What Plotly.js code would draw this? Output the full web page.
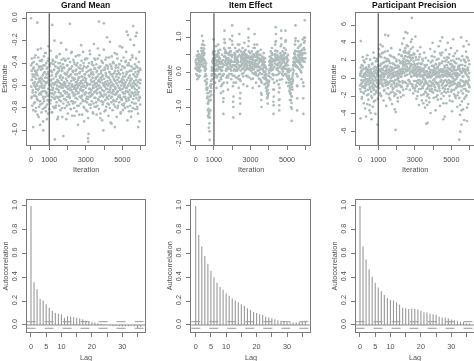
<!DOCTYPE html>
<html><head><meta charset="utf-8">
<script src="https://cdn.plot.ly/plotly-3.0.1.min.js"></script>
<style>html,body{margin:0;padding:0;overflow:hidden;background:#fff}
.main-svg{will-change:transform}</style>
</head><body><div id="chart"></div>
<script>
const panelTitles = ['Grand Mean', 'Item Effect', 'Participant Precision'];
const thinStep = 15;   // iterations between the stored draws of one set
const midOffset = 8;   // the second set sits between the first set's draws
const burnIn = 1000;

const grandMean = [
0,-.61,-.47,-.7,-.55,-.4,-.66,-.52,-.97,-.58,-.44,-.76,-.6,-.35,-.57,-.69,-.5,-.83,-.54,-.63,
-.48,-.59,-.72,-.04,-.51,-.28,-.64,-.57,-.88,-.43,-.68,-.55,-.61,-.95,-.77,-.53,-.46,-.66,-.58,-.38,
-.62,-.54,-.45,-.81,-.7,-1.0,-.56,-.49,-.74,-.6,-.42,-.65,-.53,-.79,-.31,-.58,-.67,-.5,-.9,-.44,
-.57,-.73,-.48,-.63,-.25,-.55,-.69,-.52,-.59,-.41,-.76,-.56,-.64,-.47,-.6,-.84,-.51,-.67,-.06,-.58,
-.38,-.62,-.54,-.71,-.46,-.59,-.8,-1.08,-.66,-.43,-.57,-.78,-.5,-.63,-.34,-.6,-.55,-.7,-.48,-.88,
-.56,-.64,-.45,-.61,-.73,-.52,-.4,-.58,-.67,-.51,-.22,-.62,-.55,-.8,-.47,-.59,-.69,-.53,-1.05,-.44,
-.6,-.57,-.65,-.49,-.72,-.58,-.37,-.61,-.54,-.9,-.5,-.66,-.56,-.42,-.63,-.75,-.52,-.6,-.46,-.68,
-.58,-.7,-.05,-.51,-.62,-.45,-.81,-.56,-.64,-.3,-.59,-.53,-.74,-.48,-.61,-.67,-.55,-.39,-.63,-.87,
-.54,-.6,-.47,-.71,-.57,-.65,-.42,-.59,-.5,-.78,-.62,-.55,-.33,-.66,-.53,-.6,-.86,-.49,-.58,-.7,
-.45,-.63,-.56,-.24,-.61,-.52,-.69,-.58,-.47,-.74,-.55,-.64,-.4,-.6,-.92,-.53,-.67,-.5,-.57,-.36,
-.62,-.54,-.72,-.48,-.6,-.58,-.83,-.43,-1.07,-1.1,-1.03,-.51,-.63,-.7,-.29,-.59,-.46,-.66,-.77,-.55,
-.49,-.64,-.57,-.41,-.68,-.53,-.6,-.85,-.5,-.62,-.56,-.36,-.71,-.59,-.45,-.65,-.54,-.79,-.61,-.48,
-.58,-.67,-.52,-.63,-.27,-.56,-.73,-.5,-.03,-.6,-.44,-.66,-.57,-.89,-.53,-.62,-.47,-.69,-.55,-.39,
-.64,-.51,-.58,-.75,-1.0,-.6,-.045,-.54,-.68,-.46,-.61,-.57,-.82,-.49,-.63,-.35,-.59,-.52,-.7,-.56,
-.43,-.66,-.6,-.53,-.77,-.58,-.48,-.64,-.21,-.55,-.62,-.5,-.71,-.57,-.94,-.45,-.6,-.67,-.52,-.4,
-.59,-.65,-.54,-.74,-.49,-.61,-.97,-.56,-.63,-.44,-.68,-.52,-.58,-.32,-.66,-.55,-.8,-.6,-.47,-.7,
-.53,-.62,-.57,-.41,-.69,-.5,-.64,-.85,-.56,-.6,-.46,-.72,-.54,-.26,-.63,-.58,-.49,-.67,-.55,-.78,
-.61,-.44,-.59,-.52,-.7,-.57,-.38,-.65,-.5,-.12,-.62,-.55,-.91,-.48,-.6,-.66,-.53,-.73,-.42,-.58,
-.64,-.51,-.56,-.19,-.69,-.6,-.47,-.83,-.54,-.62,-.35,-.58,-.67,-.07,-.5,-.61,-.56,-.76,-.45,-.63,
-.52,-.59,-.16,-.68,-.55,-.43,-.64,-.6,-.81,-.5,-.57,-.97,-.66,-.48,-.62,-.3,-.55,-.71,-.58,-.46];
const grandMeanMid = [
-.42,-.71,-.55,-.36,-.78,-.5,-.64,-.45,-.82,-.58,-.39,-.69,-.52,-.75,-.47,-.61,-.33,-.66,-.8,-.49,
-.7,-.41,-.6,-.86,-.46,-.73,-.35,-.63,-.54,-.79,-.44,-.67,-.38,-.74,-.56,-.27,-.68,-.43,-.84,-.6,
-.37,-.76,-.51,-.65,-.92,-.42,-.72,-.34,-.62,-.8,-.48,-.31,-.7,-.57,-.83,-.4,-.66,-.45,-.77,-.53,
-.69,-.38,-.85,-.5,-.36,-.74,-.59,-.81,-.43,-.67,-.47,-.29,-.73,-.55,-.4,-.7,-.48,-.84,-.62,-.37,
-.64,-.79,-.41,-.68,-.46,-.2,-.72,-.58,-.39,-.8,-.52,-.7,-.35,-.75,-.49,-.63,-.9,-.44,-.71,-.57,
-.4,-.66,-.78,-.47,-.32,-.7,-.53,-.82,-.43,-.74,-.6,-.37,-.69,-.45,-.88,-.62,-.41,-.76,-.36,-.65,
-.72,-.44,-.59,-.8,-.38,-.67,-.5,-.73,-.28,-.61,-.78,-.42,-.7,-.48,-.85,-.63,-.36,-.68,-.52,-.77,
-.45,-.71,-.39,-.64,-.81,-.5,-.31,-.74,-.6,-.43,-.87,-.66,-.47,-.76,-.37,-.69,-.54,-.8,-.62,-.41,
-.75,-.5,-.68,-.34,-.63,-.46,-.83,-.57,-.72,-.4,-.6,-.95,-.67,-.44,-.78,-.53,-.33,-.7,-.48,-.64,
-.42,-.76,-.58,-.71,-.38,-.52,-.86,-.65,-.45,-.73,-.3,-.61,-.79,-.43,-.8,-.5,-.68,-.37,-.74,-.56,
-.66,-.82,-.44,-.7,-.75,-.36,-.59,-.72,-.89,-.47,-.67,-.4,-.77,-.52,-.7,-.32,-.63,-.8,-.46,-.69,
-.5,-.74,-.39,-.68,-.48,-.84,-.62,-.42,-.76,-.23,-.66,-.45,-.79,-.58,-.37,-.71,-.53,-.75,-.41,-.86,
-.64,-.47,-.78,-.36,-.6,-.72,-.44,-.81,-.55,-.33,-.7,-.62,-.43,-.85,-.67,-.49,-.74,-.38,-.69,-.91,
-.52,-.77,-.4,-.7,-.46,-.28,-.65,-.59,-.83,-.44,-.73,-.37,-.68,-.51,-.79,-.42,-.71,-.17,-.63,-.76,
-.45,-.72,-.87,-.53,-.35,-.69,-.48,-.8,-.41,-.66,-.93,-.6,-.43,-.75,-.34,-.7,-.5,-.82,-.64,-.39,
-.73,-.4,-.77,-.55,-.68,-.31,-.47,-.79,-.62,-.74,-.42,-.67,-.88,-.5,-.72,-.36,-.65,-.78,-.44,-.7,
-.49,-.75,-.41,-.69,-.25,-.63,-.71,-.84,-.46,-.38,-.73,-.57,-.77,-.43,-.66,-.82,-.52,-.35,-.7,-.6,
-.76,-.44,-.67,-.8,-.39,-.62,-.72,-.3,-.74,-.48,-.65,-.42,-.79,-.15,-.6,-.71,-.4,-.83,-.53,-.68,
-.47,-.78,-.37,-.7,-.55,-.88,-.43,-.66,-.75,-.33,-.61,-.8,-.45,-.72,-.5,-.24,-.69,-.58,-.81,-.41,
-.66,-.48,-.76,-.36,-.71,-.13,-.52,-.79,-.44,-.68,-.85,-.47,-.73,-.39,-.62,-.92,-.7,-.45,-.77,-.55];

const itemEffect = [
.12,.35,-.05,.2,.48,.1,-.2,.25,.6,.38,.05,-.15,.3,.52,.22,-.1,.15,.4,.05,.28,
.45,.7,.32,1.05,.55,.2,.62,.9,.4,.15,.5,.78,.35,.05,-.25,.3,.1,-.1,.25,-.35,
-.5,-.2,-.75,-.45,-.9,-1.25,-.6,-1.05,-1.6,-.8,-1.47,-1.95,-.7,-.4,-1.1,-.55,-.25,-.65,-.1,.15,
-.2,.3,.05,.55,.25,.95,.1,.4,-.15,.6,.2,-.3,.35,.05,.75,.25,-.45,.1,.5,.2,
-.1,.45,.8,.3,.55,.15,-.25,.4,.1,.65,-.05,.3,-.6,-.2,.25,.05,.5,-.35,.15,.35,
-.55,-1.2,-.3,.2,.7,1.2,.45,.85,.3,.6,.05,.4,-.15,.2,.55,-.3,.1,.35,-.5,.15,
.4,.7,.25,-.05,.5,.95,.3,.1,.6,.35,-.2,.15,.45,1.35,.8,.2,-.4,-1.3,-.7,.05,
.3,-.1,.55,.2,.7,.35,.05,-.3,.4,.15,.6,.25,-.15,.35,.8,.45,.1,-.45,.2,1.1,
.5,-.2,-1.2,-.6,.05,.3,.6,.2,.45,-.05,.25,.7,.4,.1,-.35,.3,.55,.15,.85,.35,
.05,.4,.65,.25,-.1,.3,.5,.15,-.4,.2,.45,.1,.75,1.25,.6,.3,-.15,.4,.2,.55,
.25,.05,.45,-.2,.3,.6,.15,.4,-.45,.1,.35,.7,.2,-.05,.5,1.1,.3,0,.45,.25,
-.3,.15,.55,.35,.8,.2,-.1,.4,.6,.25,.05,-.4,.3,.5,.15,-.2,.35,.65,.1,-.6,
-1.0,-.3,.2,.45,.1,.35,-.15,.25,.55,.3,0,-.35,.2,.4,-.1,.15,-.45,-.2,.1,-.55,
-.3,-.75,-.5,-.9,-.4,-.1,-.6,.05,-.25,.2,.45,.1,.35,-.15,.6,.25,.05,.4,.7,.3,
.1,-.2,.35,-.5,-1.2,-.7,-.3,.15,.5,.25,.8,.45,1.3,.9,.35,.1,-.25,.4,.6,.2,
.05,.45,.25,-.35,-.8,-1.1,-.45,0,.3,.55,.2,.75,1.2,.4,.1,-.2,.35,.6,.15,-.1,
.3,.5,.15,.7,.4,-.05,.25,.55,1.2,.65,.2,-.3,.1,.45,.3,-.15,.2,.5,-.4,0,
-.3,.1,-.55,-.2,-.8,-.45,.05,-.6,-1.0,-.35,-1.4,-.7,-.15,-.5,.1,-.25,.2,.4,.05,.3,
.55,.25,.8,.45,1.35,.6,.2,.4,-.05,.35,-1.1,-.4,.15,.5,.9,.3,.6,.1,.45,.75,
.25,.55,.05,.4,.8,.2,-.2,.5,.35,.65,.15,.95,-.3,-1.2,.4,.7,1.0,.3,1.5,.55];
const itemEffectMid = [
.28,.1,.1,.38,.25,-.1,.05,.45,.5,.15,-.1,.1,.45,.35,.02,.05,.3,.2,.2,.4,
.62,.48,.7,.8,.35,.45,.8,.6,.25,.35,.68,.55,.15,-.12,.05,.18,-.05,.1,-.1,-.45,
-.3,-.5,-.6,-.7,-1.1,-.9,-.85,-1.3,-1.15,-1.2,-1.7,-1.3,-.55,-.8,-.8,-.35,-.45,-.35,.05,-.05,
.1,.15,.35,.4,.6,.5,.3,.1,.25,.4,-.05,.05,.2,.45,.5,-.1,-.15,.3,.35,.05,
.2,.62,.55,.45,.35,-.05,.1,.25,.4,.3,.15,-.15,-.4,.05,.15,.3,.05,-.1,.25,-.1,
-.85,-.75,-.05,.45,.95,.85,.65,.55,.45,.35,.25,.1,.05,.4,.1,-.1,.25,-.1,-.15,.3,
.55,.5,.1,.25,.7,.6,.2,.35,.5,.05,-.05,.3,.9,1.05,.5,-.1,-.85,-1.0,-.3,.2,
.1,.2,.4,.45,.5,.2,-.15,.05,.3,.4,.42,.05,.1,.6,.6,.3,-.2,-.1,.65,.8,
.15,-.75,-.9,-.25,.18,.45,.4,.35,.2,.1,.5,.55,.25,-.12,-.02,.42,.35,.5,.6,.2,
.22,.52,.45,.08,.1,.4,.32,-.12,-.1,.32,.28,.42,1.0,.9,.45,.08,.12,.3,.38,.4,
.15,.25,.12,.05,.45,.38,.28,-.02,-.18,.22,.52,.45,.08,.22,.8,.7,.15,.22,.35,-.02,
-.08,.35,.45,.58,.5,.05,.15,.5,.42,.15,-.18,-.05,.4,.32,-.02,.08,.5,.38,-.25,-.8,
-.65,-.05,.32,.28,.22,.1,.05,.4,.42,.15,-.18,-.08,.3,.15,.02,-.15,-.32,-.05,-.22,-.42,
-.52,-.62,-.7,-.65,-.25,-.35,-.28,-.1,-.02,.32,.28,.22,.1,.22,.42,.15,.22,.55,.5,.2,
-.05,.08,-.08,-.85,-.95,-.5,-.08,.32,.38,.52,.62,.88,1.1,.62,.22,-.08,.08,.5,.4,.12,
.25,.35,-.05,-.58,-.95,-.78,-.22,.15,.42,.38,.48,.98,.8,.25,-.05,.08,.48,.38,.02,.1,
.4,.32,.42,.55,.18,.1,.4,.88,.92,.42,-.05,-.1,.28,.38,.08,.02,.35,.05,-.2,-.15,
-.1,-.22,-.38,-.5,-.62,-.2,-.28,-.8,-.68,-.88,-1.05,-.42,-.32,-.2,-.08,-.02,.3,.22,.18,.42,
.4,.52,.62,.9,.98,.4,.3,.18,.15,-.38,-.75,-.12,.32,.7,.6,.45,.35,.28,.6,.5,
.4,.3,.22,.6,.5,0,.15,.42,.5,.4,.55,.32,-.75,-.4,.55,.85,.65,.9,1.0,.4];

const participantPrecision = [
.5,-1.2,-4.5,4.2,.8,-.6,1.5,-2.1,.2,-.9,2.4,-.3,-1.6,1.1,-2.8,.4,-.2,1.8,-1.1,-3.4,
.6,-.8,-4.3,1.2,-.4,.9,-1.9,2.6,-.1,-1.3,.7,-2.4,1.5,-.7,.3,-3.0,-1.0,2.1,-.5,-3.9,
1.0,-1.5,-4.6,.2,-2.2,1.7,-.6,.5,-1.1,2.9,-.3,-2.6,.8,-1.8,1.3,-.9,-4.0,.1,1.9,-1.4,
-.2,2.2,.6,-1.0,-5.2,-2.3,1.4,.3,-.7,3.3,1.0,-.4,2.5,-1.7,.8,3.8,-.1,1.6,-2.0,.4,
2.8,-.6,1.1,3.6,-.9,.5,-2.5,1.8,.2,-1.3,2.3,-.2,4.9,1.4,-.8,.9,-3.1,1.2,-.4,2.0,
.7,3.1,-1.1,4.8,.3,-.5,1.9,-2.2,.9,2.6,-.3,1.3,-1.6,.5,3.4,-.7,1.0,-2.9,.2,1.7,
-1.2,.6,2.4,-.4,1.1,-2.0,.3,-3.5,1.5,-.9,-5.8,-1.8,.4,2.1,-.6,1.2,-1.4,.8,-2.6,.1,
1.4,-.3,2.7,.5,-1.5,1.0,3.2,-.8,.6,-2.1,1.8,.2,-1.0,2.5,3.9,.9,-.5,1.6,-1.9,2.2,
4.5,1.1,2.9,-.4,1.5,3.4,5.2,.8,2.0,-1.2,1.3,3.7,.4,5.1,2.4,-.7,1.0,2.8,-.2,1.7,
3.0,.5,-1.3,1.2,2.3,-.6,4.1,1.6,.2,6.8,2.6,-.9,.7,3.5,-1.7,.9,1.9,-.3,2.7,.3,
-1.1,1.4,4.7,.6,-.8,2.1,-2.3,.4,1.2,-.5,3.1,-1.5,.8,-.2,1.7,-3.0,.5,2.4,-.7,1.0,
3.5,.2,-1.2,1.6,-.4,.9,-2.5,.3,2.2,-.9,1.1,-.1,-1.8,.7,2.9,-.6,.4,-3.3,1.3,-.3,
.8,-1.6,-5.1,-.5,1.5,-2.0,.1,-5.0,-1.1,2.0,.5,-.8,1.2,-2.7,.3,-1.3,3.3,.6,-.4,1.8,
-.9,.2,2.5,-1.5,.9,4.0,.4,-.6,1.4,-2.2,.7,-.1,3.0,1.1,-1.0,.5,-3.6,1.6,.1,-.5,
2.1,-1.4,.6,1.3,-2.4,.2,-.7,3.6,.9,-1.1,1.7,.3,-3.1,4.2,-.4,1.0,2.6,-.2,-1.7,.7,
4.6,1.9,-.6,.4,-4.6,-2.0,.8,-.3,2.3,-4.3,1.2,-1.2,.5,3.2,-.8,-2.8,.9,1.5,-.4,2.4,
4.0,.6,-1.5,1.8,-.2,.3,2.7,-.9,-2.5,1.1,.4,-.5,3.4,1.6,-1.3,.8,-3.7,.2,1.4,-.7,
4.4,2.0,-.3,.9,-1.8,1.3,-.6,2.8,.5,-2.2,-.1,1.7,-1.0,.6,3.1,-3.2,.3,-.8,1.2,-1.6,
.4,2.2,-6.9,-.5,1.0,-4.1,-6.0,1.5,-.9,4.6,-5.2,.7,-2.6,2.5,-.3,1.1,-3.5,.2,3.6,-1.2,
-4.7,.8,2.0,-.7,1.4,-2.1,.5,3.0,-1.4,4.2,-4.8,.9,-.4,2.3,1.2,-2.9,.1,3.8,-.8,1.6];
const participantPrecisionMid = [
-.8,.3,1.2,-1.5,.6,-.2,-2.3,.9,-.5,1.4,-1.0,.2,-.3,2.0,-1.7,.5,-.9,.1,1.1,-.6,
-1.4,.4,-.1,2.2,-.7,.8,-2.9,.3,1.0,-.4,-1.8,.6,-.2,1.3,-3.6,0,.9,-1.2,.5,-.3,
.7,-2.0,.2,-.9,1.6,-.1,-3.2,.5,-.6,1.1,-1.3,.3,2.3,-.8,.1,-2.5,.6,-.2,.9,-1.6,
1.2,-.5,.4,2.0,-.9,.7,1.5,-.2,.9,-1.1,2.7,.3,-.6,1.4,.1,-1.9,1.0,2.4,-.3,.6,
.2,1.7,-.8,.9,2.9,-.1,.6,-1.4,1.3,.4,-.5,3.0,.8,-.2,1.9,.5,-1.7,.9,2.2,-.6,
1.4,.1,-.7,2.1,.6,-1.8,1.0,.3,-.4,1.7,-2.4,.8,0,2.5,-.9,.5,1.2,-.3,-1.5,.9,
.4,-1.1,1.6,.2,-.6,2.3,-1.7,.7,-.2,1.2,-3.8,.3,1.9,-.9,.5,-.1,1.4,-2.2,.6,0,
-.7,1.3,.4,2.0,-.4,.9,-1.6,1.7,.2,.8,-.9,2.6,.5,1.1,-.3,1.9,.7,-1.3,1.4,3.0,
2.2,.6,1.8,3.1,.3,2.5,1.0,-.5,1.6,2.9,.8,1.3,-.9,2.0,3.6,.9,1.7,-.2,2.4,1.1,
1.9,-.4,2.6,.7,1.4,3.3,.2,2.1,.9,4.4,1.5,-.7,2.3,.6,1.2,-1.1,2.8,.4,1.6,.9,
.5,-1.4,1.1,2.4,-.3,.7,-.9,1.6,.2,-2.0,.9,1.3,-.5,2.1,.4,-1.2,1.0,-.2,2.7,.6,
1.2,-.6,.8,-1.9,.3,1.7,-.4,.9,-1.1,2.0,.1,-2.8,1.0,.4,-.7,1.5,-.1,-1.5,.6,2.3,
-.4,-2.5,.3,-1.2,.8,-3.0,-.6,.5,-1.8,.2,-.9,1.1,-2.2,-.3,.7,-1.4,.1,-3.9,.9,-.8,
.3,-1.2,1.4,-.5,2.0,.6,-1.6,.9,-.2,1.3,-.8,2.4,.4,-1.3,.8,-.4,1.6,-2.1,.5,1.1,
-.6,.7,-1.9,.3,1.2,-.5,2.2,-.9,.6,1.5,-1.4,.1,2.8,.8,-.3,-2.3,.9,1.7,-.8,.4,
2.9,.2,-1.1,1.0,-2.8,-.4,.7,-1.5,1.4,-.9,.3,1.9,-.2,.8,-1.6,.5,2.1,-.7,.2,1.2,
.7,-1.2,.4,2.3,-.5,1.0,-2.0,.6,-.3,1.6,-.8,.2,2.0,-1.5,.9,-.4,1.3,-2.6,.5,0,
2.5,-.4,1.1,-1.3,.6,-.2,1.8,-2.0,.3,.9,-1.1,.4,2.2,-.7,.1,-1.9,1.0,.5,-.5,1.4,
-.9,1.3,-2.2,.4,-.6,-3.0,.8,-.2,2.0,-1.4,-3.6,.6,-.9,1.5,.2,-1.7,.9,-.4,2.1,-.8,
-2.3,1.0,-.5,.7,-1.2,1.8,-.3,.5,-1.9,2.4,-3.3,.3,1.1,-.6,.9,-1.5,2.0,-.2,.6,-1.0];

const lags = [0,1,2,3,4,5,6,7,8,9,10,11,12,13,14,15,16,17,18,19,20,21,22,23,24,25,26,27,28,29,30,31,32,33,34,35,36];
const acfGrandMean = [1,.36,.30,.22,.205,.175,.145,.12,.10,.095,.09,.06,.073,.07,.065,.06,.055,.048,.035,.03,.022,.02,.015,.01,.005,0,-.005,-.01,-.008,-.01,-.012,-.01,-.008,-.005,-.01,-.025,-.015];
const acfItemEffect = [1,.755,.66,.58,.515,.455,.40,.355,.32,.295,.265,.245,.225,.205,.19,.175,.16,.14,.125,.11,.10,.09,.085,.07,.062,.056,.048,.04,.036,.028,.022,.02,.02,.02,.022,.025,.025];
const acfPrecision = [1,.66,.55,.468,.405,.355,.315,.285,.252,.227,.21,.205,.19,.17,.145,.14,.135,.137,.137,.13,.12,.106,.104,.095,.09,.085,.07,.062,.062,.056,.045,.04,.036,.028,.025,.014,.012];
const acfBound = 0.0277;

const iterTickVals = [0,1000,2000,3000,4000,5000,6000];
const iterTickText = ['0','1000','','3000','','5000',''];
const lagTickVals = [0,5,10,15,20,25,30,35];
const lagTickText = ['0','5','10','','20','','30',''];
const yTicks = [
  {vals:[-1,-.8,-.6,-.4,-.2,0], text:['-1.0','-0.8','-0.6','-0.4','-0.2','0.0'], range:[-1.13,0.044]},
  {vals:[-2,-1.5,-1,-.5,0,.5,1,1.5], text:['-2.0','','-1.0','','0.0','','1.0',''], range:[-2.095,1.70]},
  {vals:[-6,-4,-2,0,2,4,6], text:['-6','-4','-2','0','2','4','6'], range:[-7.5,7.32]}
];
const acfTickVals = [0,.2,.4,.6,.8,1];
const acfTickText = ['0.0','0.2','0.4','0.6','0.8','1.0'];

const W = 476, H = 361;
const colPx = [[26.6,145],[191.3,309.7],[355.6,474]];
const topPx = [13.3,145], botPx = [200,332];
const fx = p => p / W, fy = p => 1 - p / H;

const traceSeries = [grandMean, itemEffect, participantPrecision];
const traceSeriesMid = [grandMeanMid, itemEffectMid, participantPrecisionMid];
const acfSeries = [acfGrandMean, acfItemEffect, acfPrecision];

const font = 'Liberation Sans, Arial, sans-serif';
const axisBase = {
  showline:true, mirror:true, linecolor:'#7a7a7a', linewidth:1,
  ticks:'outside', ticklen:4, tickwidth:1, tickcolor:'#7a7a7a',
  showgrid:false, zeroline:false, tickmode:'array',
  tickfont:{family:font, size:7.3, color:'#505050'}, fixedrange:true
};

const data = [], layout = {
  width:W, height:H, margin:{l:0,r:0,t:0,b:0,pad:0},
  paper_bgcolor:'#fff', plot_bgcolor:'#fff', showlegend:false,
  annotations:[], shapes:[]
};
const pointStyle = {size:2.7, color:'#AEBBBB', line:{width:0}};

for (let c = 0; c < 3; c++) {
  const tIdx = c + 1, bIdx = c + 4;
  data.push({type:'scatter', mode:'markers',
    x:traceSeries[c].map((_, i) => i * thinStep), y:traceSeries[c],
    xaxis:'x'+tIdx, yaxis:'y'+tIdx, hoverinfo:'skip', marker:pointStyle});
  data.push({type:'scatter', mode:'markers',
    x:traceSeriesMid[c].map((_, i) => i * thinStep + midOffset), y:traceSeriesMid[c],
    xaxis:'x'+tIdx, yaxis:'y'+tIdx, hoverinfo:'skip', marker:pointStyle});
  const bx = [], by = [];
  lags.forEach((l, i) => { bx.push(l, l, null); by.push(0, acfSeries[c][i], null); });
  data.push({type:'scatter', mode:'lines', x:bx, y:by,
    xaxis:'x'+bIdx, yaxis:'y'+bIdx, hoverinfo:'skip',
    line:{color:'#999', width:1.1}});

  const xd = [fx(colPx[c][0]), fx(colPx[c][1])];
  layout['xaxis'+tIdx] = Object.assign({}, axisBase, {domain:xd, range:[-240,6240],
    tickvals:iterTickVals, ticktext:iterTickText, anchor:'y'+tIdx, ticklabelstandoff:3});
  layout['yaxis'+tIdx] = Object.assign({}, axisBase, {domain:[fy(topPx[1]), fy(topPx[0])],
    range:yTicks[c].range, tickvals:yTicks[c].vals, ticktext:yTicks[c].text,
    tickangle:-90, anchor:'x'+tIdx, ticklabelstandoff:2});
  layout['xaxis'+bIdx] = Object.assign({}, axisBase, {domain:xd, range:[-1.44,37.44],
    tickvals:lagTickVals, ticktext:lagTickText, anchor:'y'+bIdx, ticklabelstandoff:3});
  layout['yaxis'+bIdx] = Object.assign({}, axisBase, {domain:[fy(botPx[1]), fy(botPx[0])],
    range:[-0.059,1.05], tickvals:acfTickVals, ticktext:acfTickText,
    tickangle:-90, anchor:'x'+bIdx, ticklabelstandoff:2});

  const cx = fx((colPx[c][0] + colPx[c][1]) / 2);
  layout.annotations.push(
    {text:'<b>'+panelTitles[c]+'</b>', xref:'paper', yref:'paper', x:cx, y:fy(5.5),
     showarrow:false, xanchor:'center', yanchor:'middle', font:{family:font, size:8.5, color:'#111'}},
    {text:'Iteration', xref:'paper', yref:'paper', x:cx, y:fy(169.5),
     showarrow:false, xanchor:'center', yanchor:'middle', font:{family:font, size:7.3, color:'#505050'}},
    {text:'Lag', xref:'paper', yref:'paper', x:cx, y:fy(357),
     showarrow:false, xanchor:'center', yanchor:'middle', font:{family:font, size:7.3, color:'#505050'}},
    {text:'Estimate', xref:'paper', yref:'paper', x:fx(colPx[c][0]-22), y:fy((topPx[0]+topPx[1])/2),
     showarrow:false, xanchor:'center', yanchor:'middle', textangle:-90, font:{family:font, size:7.3, color:'#505050'}},
    {text:'Autocorrelation', xref:'paper', yref:'paper', x:fx(colPx[c][0]-22), y:fy((botPx[0]+botPx[1])/2),
     showarrow:false, xanchor:'center', yanchor:'middle', textangle:-90, font:{family:font, size:7.3, color:'#505050'}}
  );
  layout.shapes.push(
    {type:'line', xref:'x'+tIdx, yref:'y'+tIdx+' domain', x0:burnIn, x1:burnIn, y0:0, y1:1,
     line:{color:'#555', width:1.2}},
    {type:'line', xref:'x'+bIdx+' domain', yref:'y'+bIdx, x0:0, x1:1, y0:0, y1:0,
     line:{color:'#888', width:1}},
    {type:'line', xref:'x'+bIdx+' domain', yref:'y'+bIdx, x0:0, x1:1, y0:acfBound, y1:acfBound,
     line:{color:'#999', width:1, dash:'dash'}},
    {type:'line', xref:'x'+bIdx+' domain', yref:'y'+bIdx, x0:0, x1:1, y0:-acfBound, y1:-acfBound,
     line:{color:'#999', width:1, dash:'dash'}}
  );
}

Plotly.newPlot('chart', data, layout, {staticPlot:true, displayModeBar:false});
</script>
</body></html>
